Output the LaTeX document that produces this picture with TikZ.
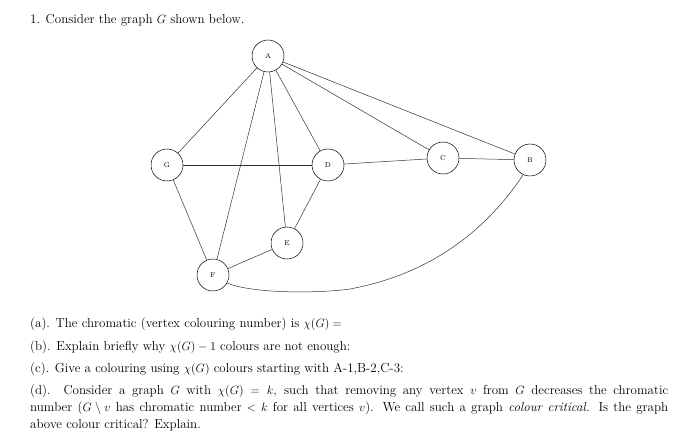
\documentclass[tikz,border=0pt]{standalone}
\begin{document}
\begin{tikzpicture}[x=1pt,y=-1pt,
  vtx/.style={circle,draw,line width=0.5pt,minimum size=32pt,inner sep=0pt,font=\fontsize{7}{8}\selectfont},
  edge/.style={line width=0.5pt,draw=black!80}]
\useasboundingbox (0,0) rectangle (700,446);
\node[anchor=base west,inner sep=0pt,font=\fontsize{13}{15}\selectfont] (title) at (30,24) {1. Consider the graph $G$ shown below.};
\node[vtx] (A) at (268,56) {A};
\node[vtx] (G) at (167,165) {G};
\node[vtx] (D) at (328,165) {D};
\node[vtx] (C) at (443,158) {C};
\node[vtx] (B) at (530,160) {B};
\node[vtx] (E) at (287,243) {E};
\node[vtx] (F) at (213,275) {F};
\draw[edge] (A)--(G); \draw[edge] (A)--(F); \draw[edge] (A)--(E);
\draw[edge] (A)--(D); \draw[edge] (A)--(C); \draw[edge] (A)--(B);
\draw[edge] (G)--(D); \draw[edge] (D)--(C); \draw[edge] (C)--(B);
\draw[edge] (G)--(F); \draw[edge] (D)--(E); \draw[edge] (E)--(F);
\draw[edge] (F.-30) .. controls (260,296) and (340,292) .. (355,288) .. controls (420,275) and (480,240) .. (B.-115);
\begin{scope}[font=\fontsize{13}{15}\selectfont]
\node[anchor=base west,inner sep=0pt] (qa) at (30,327) {(a). The chromatic (vertex colouring number) is $\chi(G)=$};
\node[anchor=base west,inner sep=0pt] (qb) at (30,350) {(b). Explain briefly why $\chi(G)-1$ colours are not enough:};
\node[anchor=base west,inner sep=0pt] (qc) at (30,372) {(c). Give a colouring using $\chi(G)$ colours starting with A-1,B-2,C-3:};
\node[anchor=base west,inner sep=0pt,text width=638pt,align=justify,font=\fontsize{13}{17}\selectfont] (qd) at (30,394) {(d). Consider a graph $G$ with $\chi(G)=k$, such that removing any vertex $v$ from $G$ decreases the chromatic\linebreak number ($G\setminus v$ has chromatic number $<k$ for all vertices $v$). We call such a graph \emph{colour critical.} Is the graph\linebreak above colour critical? Explain.};
\end{scope}
\end{tikzpicture}
\end{document}
